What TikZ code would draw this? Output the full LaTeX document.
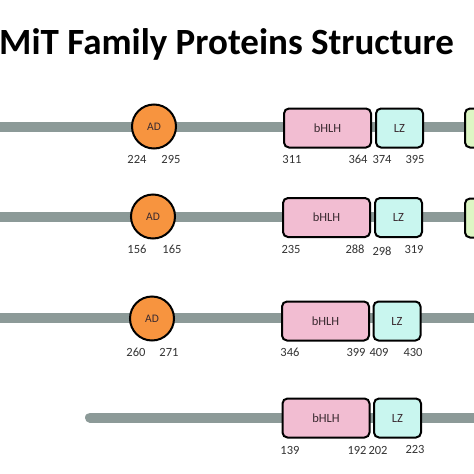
\documentclass[tikz,border=0pt]{standalone}
\usepackage{fontspec}
\setmainfont{Carlito}
\begin{document}
\begin{tikzpicture}[x=1pt,y=-1pt,
  bar/.style={line width=10pt,draw=barcol},
  addom/.style={circle,draw=black,line width=2pt,fill=adcol,minimum size=44pt,inner sep=0pt,font=\fontsize{11.5}{11.5}\selectfont,text=txt},
  dombox/.style={rectangle,rounded corners=5pt,draw=black,line width=2pt,inner sep=0pt,minimum height=39pt,font=\fontsize{12.5}{12.5}\selectfont,text=txt},
  hlh/.style={dombox,fill=hlhcol,minimum width=87pt},
  lz/.style={dombox,fill=lzcol,minimum width=47pt},
  gr/.style={dombox,fill=grcol,minimum width=40pt},
  num/.style={font=\fontsize{12.5}{12.5}\selectfont,text=numcol,inner sep=0pt}]
\definecolor{barcol}{HTML}{8C9A98}
\definecolor{adcol}{HTML}{F7943F}
\definecolor{hlhcol}{HTML}{F2BDD2}
\definecolor{lzcol}{HTML}{C9F6EF}
\definecolor{grcol}{HTML}{DDF6C4}
\definecolor{txt}{HTML}{3A2A30}
\definecolor{numcol}{HTML}{333333}
\useasboundingbox (0,0) rectangle (474,474);
\fill[white] (0,0) rectangle (474,474);
\node[anchor=base west,inner sep=0pt,font=\fontsize{37}{37}\selectfont\bfseries] (title) at (-1,54) {MiT Family Proteins Structure};

% row 1
\coordinate (r1a) at (-5,127);
\coordinate (r1b) at (480,127);
\draw[bar] (r1a) -- (r1b);
\node[addom] (ad1) at (154,126.5) {AD};
\node[hlh] (bh1) at (327.5,128) {bHLH};
\node[lz] (lz1) at (399.5,128) {LZ};
\node[gr,anchor=west] (g1) at (464,128) {};
\node[num] (n1a) at (137,159) {224};
\node[num] (n1b) at (171,159) {295};
\node[num] (n1c) at (292,159) {311};
\node[num] (n1d) at (358,159) {364};
\node[num] (n1e) at (382,159) {374};
\node[num] (n1f) at (415,159) {395};

% row 2
\coordinate (r2a) at (-5,217);
\coordinate (r2b) at (480,217);
\draw[bar] (r2a) -- (r2b);
\node[addom] (ad2) at (153,216.5) {AD};
\node[hlh] (bh2) at (326.5,217.5) {bHLH};
\node[lz] (lz2) at (398.5,217.5) {LZ};
\node[gr,anchor=west] (g2) at (464,218) {};
\node[num] (n2a) at (137,249) {156};
\node[num] (n2b) at (172,249) {165};
\node[num] (n2c) at (291,249) {235};
\node[num] (n2d) at (355,249) {288};
\node[num] (n2e) at (382,251) {298};
\node[num] (n2f) at (414,249) {319};

% row 3
\coordinate (r3a) at (-5,318);
\coordinate (r3b) at (480,318);
\draw[bar] (r3a) -- (r3b);
\node[addom] (ad3) at (152,318.5) {AD};
\node[hlh] (bh3) at (325.5,321) {bHLH};
\node[lz] (lz3) at (397,321) {LZ};
\node[num] (n3a) at (136,352) {260};
\node[num] (n3b) at (169,352) {271};
\node[num] (n3c) at (290,352) {346};
\node[num] (n3d) at (356,352) {399};
\node[num] (n3e) at (379,352) {409};
\node[num] (n3f) at (413,352) {430};

% row 4
\coordinate (r4a) at (90,417.5);
\coordinate (r4b) at (480,417.5);
\draw[bar,line cap=round] (r4a) -- (r4b);
\node[hlh] (bh4) at (326,418) {bHLH};
\node[lz] (lz4) at (397.5,418) {LZ};
\node[num] (n4a) at (290,450) {139};
\node[num] (n4b) at (357,450) {192};
\node[num] (n4c) at (378,450) {202};
\node[num] (n4d) at (415,449) {223};
\end{tikzpicture}
\end{document}
